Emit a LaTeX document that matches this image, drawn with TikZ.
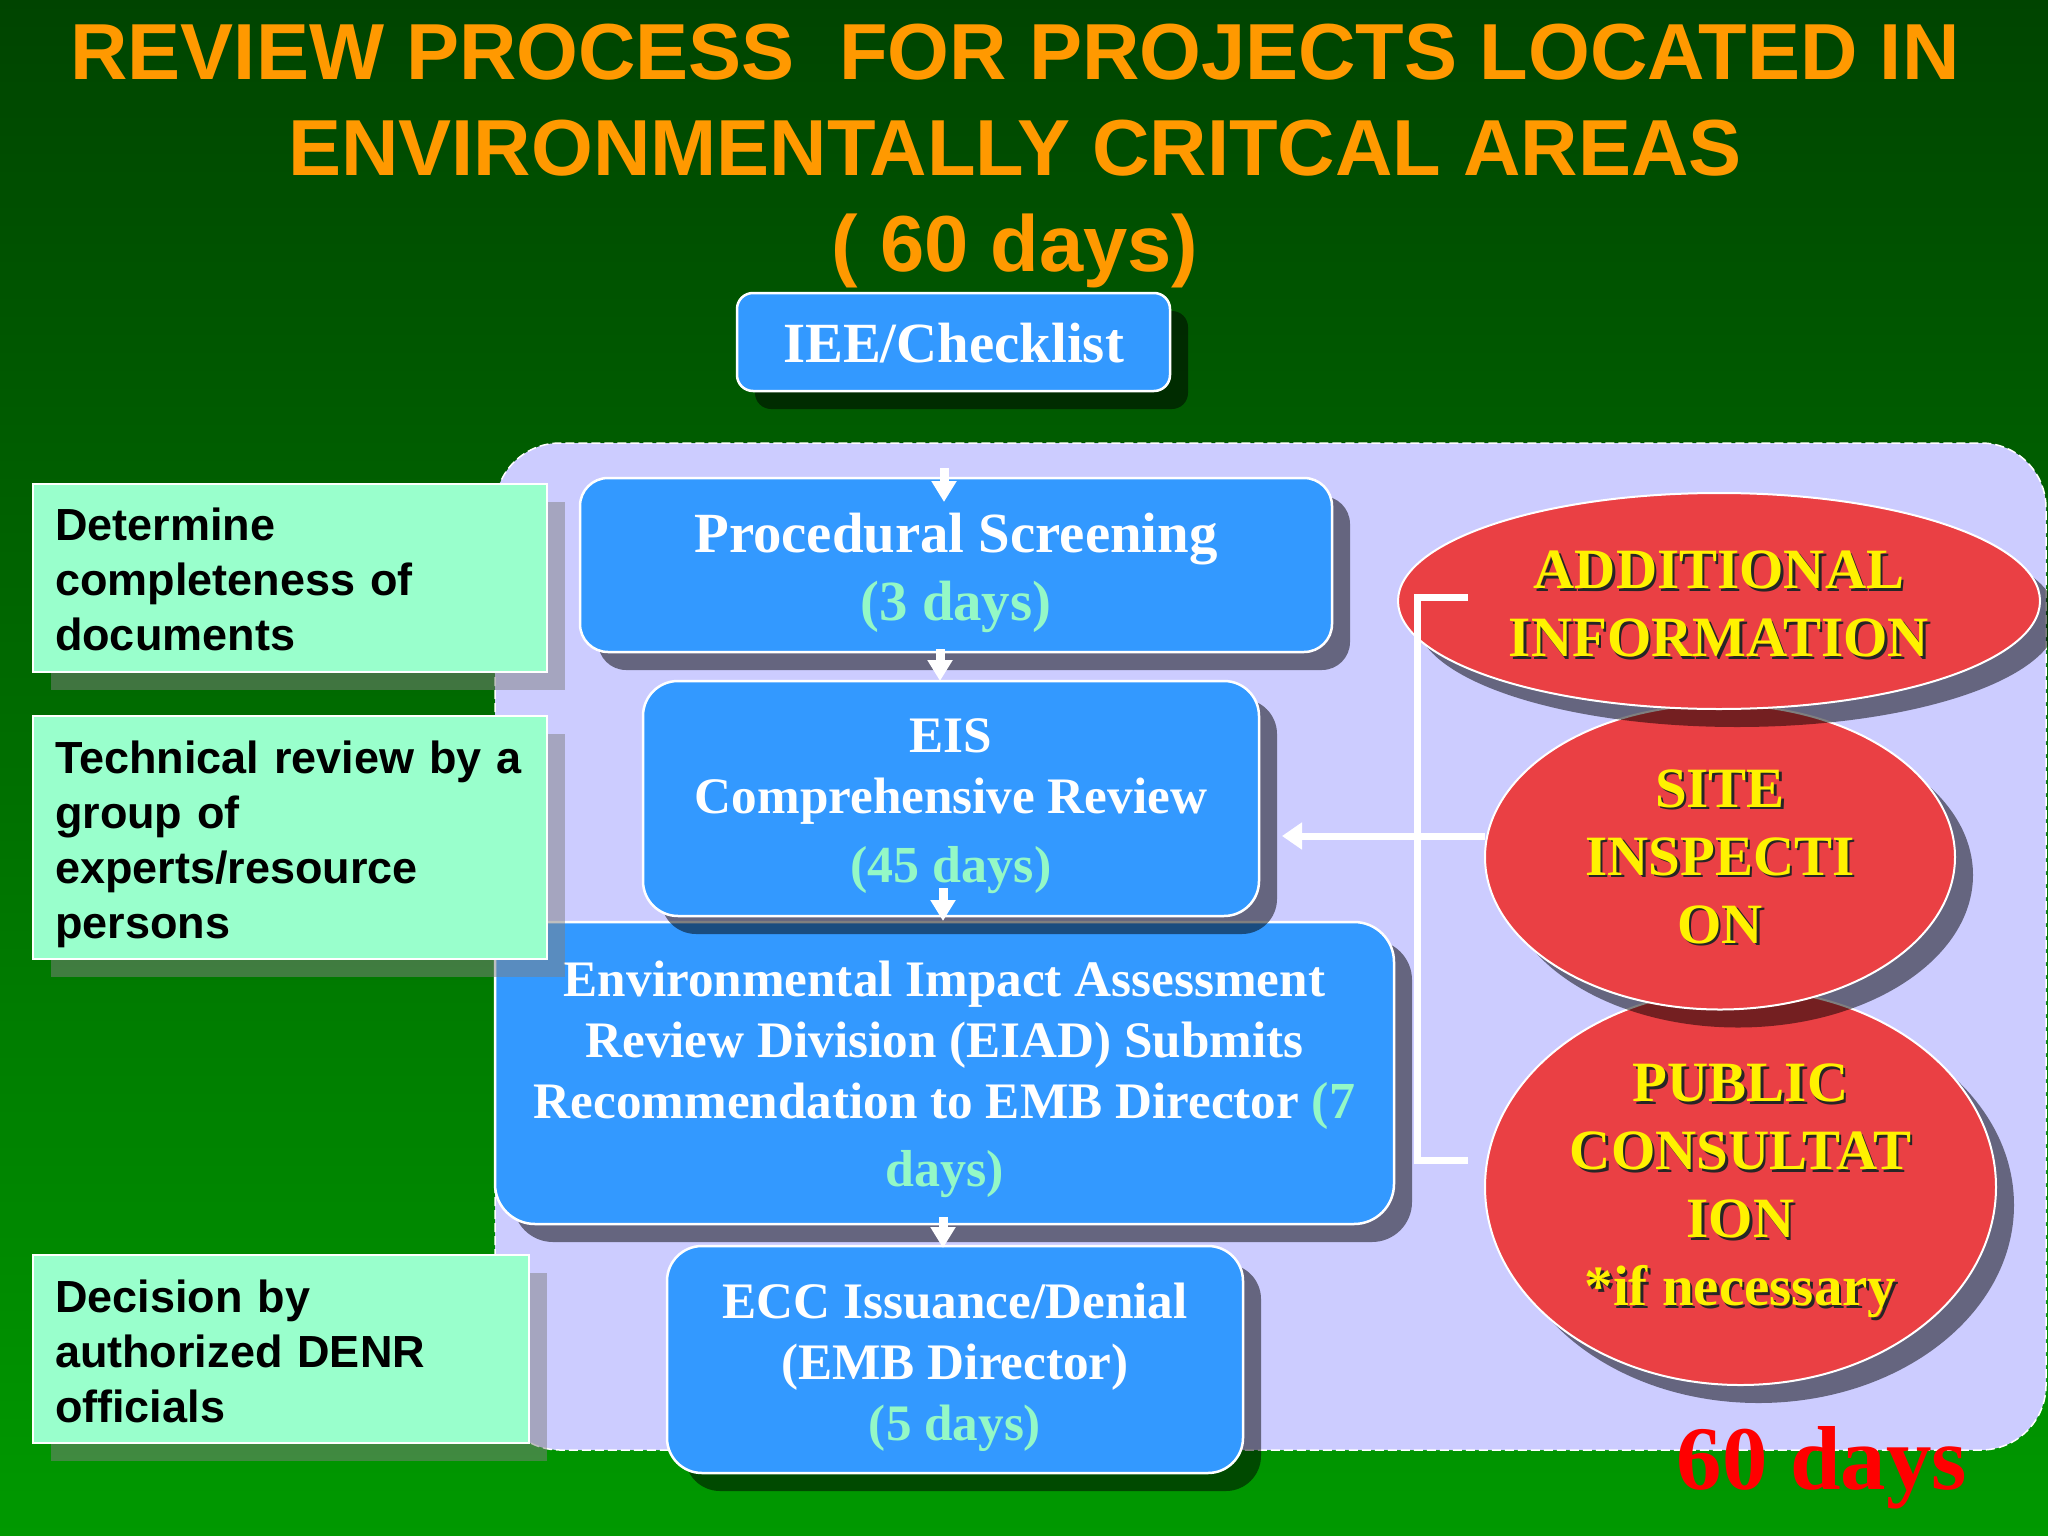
\documentclass[tikz,border=0pt]{standalone}
\usepackage{fontspec}
\setmainfont{Liberation Serif}
\newfontfamily\arialfont{Liberation Sans}
\usetikzlibrary{arrows.meta,shapes.geometric,shadows}
\definecolor{bgtop}{RGB}{0,68,0}
\definecolor{bgbot}{RGB}{0,153,0}
\definecolor{panelc}{RGB}{204,204,255}
\definecolor{boxblue}{RGB}{51,153,255}
\definecolor{notegreen}{RGB}{153,255,204}
\definecolor{ovalred}{RGB}{234,64,68}
\definecolor{mint}{RGB}{148,248,198}
\definecolor{titleorange}{RGB}{255,153,0}
\newcommand{\mintdays}[1]{{\fontsize{52}{52}\selectfont\textcolor{mint}{#1}}}
\newcommand{\shl}[1]{\leavevmode\rlap{\kern2.5pt\raisebox{-2.5pt}{\textcolor{black!85}{#1}}}#1}
\tikzset{
  softshadow/.style={general shadow={fill=black,fill opacity=.5,shadow xshift=18pt,shadow yshift=-18pt}},
  greyshadow/.style={general shadow={fill=gray,fill opacity=.5,shadow xshift=18pt,shadow yshift=-18pt}},
  flowbox/.style={draw=white,line width=2.5pt,fill=boxblue,softshadow,inner sep=0pt,outer sep=0pt,
    anchor=north west,align=center,text=white,font=\bfseries\fontsize{51.2}{61}\selectfont},
  notebox/.style={draw=white,line width=1.5pt,fill=notegreen,greyshadow,inner xsep=22pt,inner ysep=0pt,outer sep=0pt,
    anchor=north west,align=left,text=black,font=\arialfont\bfseries\fontsize{45}{55}\selectfont},
  oval/.style={ellipse,draw=white,line width=2pt,fill=ovalred,softshadow,inner sep=0pt,outer sep=0pt,
    align=center,text=yellow,font=\bfseries\fontsize{57}{68}\selectfont},
  smallarrow/.style={white,line width=9pt,-{Triangle[width=24pt,length=21pt]}},
  bracket/.style={white,line width=7pt},
  feedarrow/.style={white,line width=7pt,-{Triangle[width=26pt,length=20pt]}}
}
\begin{document}
\begin{tikzpicture}[x=1pt,y=-1pt]
\useasboundingbox (0,0) rectangle (2048,1536);
\shade[top color=bgtop,bottom color=bgbot] (0,0) rectangle (2048,1536);
\node[anchor=north,inner sep=0pt,align=center,text=titleorange,text height=271pt,text depth=10pt,
  font=\arialfont\bfseries\fontsize{79.5}{96}\selectfont] (title) at (1015,0)
  {REVIEW PROCESS\ \ FOR PROJECTS LOCATED IN\\ENVIRONMENTALLY CRITCAL AREAS\\( 60 days)};
\path[fill=panelc,draw=white,line width=1.5pt,dash pattern=on 9pt off 4pt,rounded corners=65pt]
  (495,443) rectangle (2046,1450);
% flow boxes
\node[flowbox,rounded corners=16pt,minimum width=433pt,text height=69pt,text depth=29pt,font=\bfseries\fontsize{56.8}{68}\selectfont] (iee) at (737,293) {IEE/Checklist};
\node[flowbox,rounded corners=28pt,minimum width=752pt,text height=142pt,text depth=32pt,font=\bfseries\fontsize{56.8}{68}\selectfont] (proc) at (580,478)
  {Procedural Screening\\\textcolor{mint}{(3 days)}};
\node[flowbox,rounded corners=40pt,minimum width=899pt,text height=264pt,text depth=38pt] (eiad) at (495,922)
  {Environmental Impact Assessment\\Review Division (EIAD) Submits\\Recommendation to EMB Director \mintdays{(7}\\[7pt]\mintdays{days)}};
\node[flowbox,rounded corners=35pt,minimum width=616pt,text height=201pt,text depth=34pt] (eis) at (643,681)
  {EIS\\Comprehensive Review\\[8pt]\mintdays{(45 days)}};
\node[flowbox,rounded corners=35pt,minimum width=576pt,text height=194pt,text depth=33pt] (ecc) at (667,1246)
  {ECC Issuance/Denial\\(EMB Director)\\\textcolor{mint}{(5 days)}};
% notes
\node[notebox,minimum width=514pt,text width=470pt,text height=56pt,text depth=132pt] (n1) at (33,484)
  {Determine\\completeness of\\documents};
\node[notebox,minimum width=514pt,text width=470pt,text height=57pt,text depth=186pt] (n2) at (33,716)
  {\mbox{Technical review by a}\\group of\\experts/resource\\persons};
\node[notebox,minimum width=496pt,text width=452pt,text height=57pt,text depth=131pt] (n3) at (33,1255)
  {Decision by\\authorized DENR\\officials};
% ovals
\node[oval,minimum width=511pt,minimum height=396pt,text height=250pt,text depth=13pt] (pub) at (1740.5,1187)
  {\shl{PUBLIC}\\\shl{CONSULTAT}\\\shl{ION}\\\shl{*if necessary}};
\node[oval,minimum width=470pt,minimum height=305pt,text height=186pt,text depth=14pt] (site) at (1720,857)
  {\shl{SITE}\\\shl{INSPECTI}\\\shl{ON}};
\node[oval,minimum width=642pt,minimum height=216pt,text height=124pt,text depth=13pt] (add) at (1719,601)
  {\shl{ADDITIONAL}\\\shl{INFORMATION}};
% connectors
\coordinate (a1s) at (944,468); \coordinate (a1e) at (944,502);
\coordinate (a2s) at (940,649); \coordinate (a2e) at (940,681);
\coordinate (a3s) at (943,888); \coordinate (a3e) at (943,921);
\coordinate (a4s) at (943,1217); \coordinate (a4e) at (943,1248);
\draw[smallarrow] (a1s) -- (a1e);
\draw[smallarrow] (a2s) -- (a2e);
\draw[smallarrow] (a3s) -- (a3e);
\draw[smallarrow] (a4s) -- (a4e);
\coordinate (btop) at (1468,597); \coordinate (bbot) at (1468,1160); \coordinate (feedin) at (1485,836); \coordinate (feedtip) at (1282,836);
\draw[bracket,line cap=butt,line join=miter] (btop) -| (1417,1160) -- (bbot);
\draw[feedarrow] (feedin) -- (feedtip);
\node[anchor=base,inner sep=0pt,text=red,font=\bfseries\fontsize{90.8}{90}\selectfont] (total) at (1822,1489) {60 days};
\end{tikzpicture}
\end{document}
